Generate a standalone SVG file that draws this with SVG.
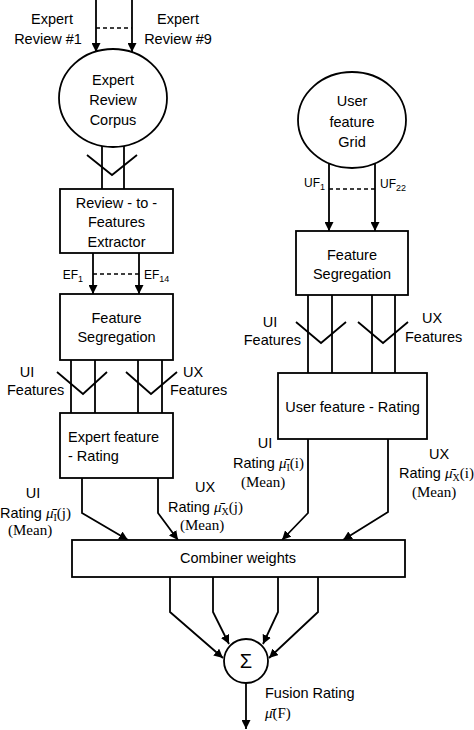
<svg xmlns="http://www.w3.org/2000/svg" width="474" height="730" viewBox="0 0 474 730">
<defs>
<marker id="ah" viewBox="0 0 10 10" refX="10" refY="5" markerWidth="9" markerHeight="9" markerUnits="userSpaceOnUse" orient="auto">
<path d="M0,0 L10,5 L0,10 z" fill="#000"/>
</marker>
</defs>
<style>
.s{fill:#fff;stroke:#000;stroke-width:1.8}
.l{fill:none;stroke:#000;stroke-width:1.8}
.a{fill:none;stroke:#000;stroke-width:1.8;marker-end:url(#ah)}
.d{fill:none;stroke:#000;stroke-width:1.5;stroke-dasharray:4,3}
text{font-family:"Liberation Sans",Arial,sans-serif;font-size:14.5px;fill:#000}
.c{text-anchor:middle}
.e{text-anchor:end}
.sm{font-size:12px}
.sb{font-size:9px}
.sf{font-family:"Liberation Serif","Times New Roman",serif;font-size:15px}
.mu{font-family:"Liberation Serif","Times New Roman",serif;font-style:italic;font-size:15px}
.si{font-family:"Liberation Serif","Times New Roman",serif;font-size:10px}
</style>
<g id="connectors">
<line class="a" x1="96" y1="0" x2="96" y2="52"/>
<line class="a" x1="132" y1="0" x2="132" y2="52"/>
<line class="d" x1="96" y1="28" x2="132" y2="28"/>
<line class="l" x1="102" y1="146" x2="102" y2="189"/>
<line class="l" x1="124" y1="146" x2="124" y2="189"/>
<polyline class="l" points="87,155 112,175 137,155"/>
<line class="a" x1="93" y1="253" x2="93" y2="294"/>
<line class="a" x1="139" y1="253" x2="139" y2="294"/>
<line class="d" x1="93" y1="274" x2="139" y2="274"/>
<line class="l" x1="71" y1="360" x2="71" y2="413"/>
<line class="l" x1="95" y1="360" x2="95" y2="413"/>
<line class="l" x1="138" y1="360" x2="138" y2="413"/>
<line class="l" x1="162" y1="360" x2="162" y2="413"/>
<polyline class="l" points="57,372 83,394 107,372"/>
<polyline class="l" points="126,372 151,394 177,372"/>
<polyline class="a" points="82,478 82,513 128,540"/>
<polyline class="a" points="158,478 158,513 178,540"/>
<line class="a" x1="329" y1="163" x2="329" y2="231"/>
<line class="a" x1="375" y1="163" x2="375" y2="231"/>
<line class="d" x1="329" y1="189" x2="375" y2="189"/>
<line class="l" x1="308" y1="295" x2="308" y2="373"/>
<line class="l" x1="332" y1="295" x2="332" y2="373"/>
<line class="l" x1="372" y1="295" x2="372" y2="373"/>
<line class="l" x1="395" y1="295" x2="395" y2="373"/>
<polyline class="l" points="296,322 321,343 346,322"/>
<polyline class="l" points="358,322 383,343 408,322"/>
<polyline class="a" points="308,439 308,513 282,540"/>
<polyline class="a" points="388,439 388,512 343,540"/>
<polyline class="a" points="170,577 170,612 223,658"/>
<polyline class="a" points="213,577 213,612 229,644"/>
<polyline class="a" points="278,577 278,612 263,644"/>
<polyline class="a" points="318,577 318,612 269,658"/>
<line class="a" x1="246" y1="683" x2="246" y2="729"/>
</g>
<g id="labels">
<text class="c" x="52" y="24">Expert</text>
<text class="c" x="48" y="44">Review #1</text>
<text class="c" x="178" y="24">Expert</text>
<text class="c" x="178" y="44">Review #9</text>
<text class="e sm" x="83" y="279">EF<tspan class="sb" dy="3">1</tspan></text>
<text class="sm" x="144" y="279">EF<tspan class="sb" dy="3">14</tspan></text>
<text class="c" x="27" y="377">UI</text>
<text x="7" y="395">Features</text>
<text class="c" x="193" y="377">UX</text>
<text x="170" y="395">Features</text>
<text class="c" x="33" y="498">UI</text>
<text x="0" y="518">Rating <tspan class="mu">μ̄</tspan><tspan class="si" dy="3">I</tspan><tspan class="sf" dy="-3">(j)</tspan></text>
<text class="sf" x="8" y="535">(Mean)</text>
<text class="c" x="205" y="492">UX</text>
<text x="168" y="512">Rating <tspan class="mu">μ̄</tspan><tspan class="si" dy="3">X</tspan><tspan class="sf" dy="-3">(j)</tspan></text>
<text class="sf" x="180" y="530">(Mean)</text>
<text class="e sm" x="325" y="187">UF<tspan class="sb" dy="3">1</tspan></text>
<text class="sm" x="380" y="188">UF<tspan class="sb" dy="3">22</tspan></text>
<text class="c" x="270" y="327">UI</text>
<text class="e" x="301" y="345">Features</text>
<text class="c" x="432" y="323">UX</text>
<text x="405" y="342">Features</text>
<text class="c" x="265" y="448">UI</text>
<text class="e" x="304" y="468">Rating <tspan class="mu">μ̄</tspan><tspan class="si" dy="3">I</tspan><tspan class="sf" dy="-3">(i)</tspan></text>
<text class="sf" x="241" y="487">(Mean)</text>
<text class="c" x="439" y="459">UX</text>
<text x="399" y="478">Rating <tspan class="mu">μ̄</tspan><tspan class="si" dy="3">X</tspan><tspan class="sf" dy="-3">(i)</tspan></text>
<text class="sf" x="412" y="497">(Mean)</text>
<text x="265" y="698">Fusion Rating</text>
<text x="265" y="718"><tspan class="mu">μ̄</tspan><tspan class="sf">(F)</tspan></text>
</g>
<g id="expert-review-corpus">
<ellipse class="s" cx="113" cy="98" rx="54" ry="49"/>
<text class="c" x="113" y="85">Expert</text>
<text class="c" x="113" y="105">Review</text>
<text class="c" x="113" y="125">Corpus</text>
</g>
<g id="review-to-features-extractor">
<rect class="s" x="60" y="189" width="113" height="64"/>
<text class="c" x="116.5" y="208">Review - to -</text>
<text class="c" x="116.5" y="227">Features</text>
<text class="c" x="116.5" y="247">Extractor</text>
</g>
<g id="feature-segregation-expert">
<rect class="s" x="60" y="294" width="113" height="66"/>
<text class="c" x="116.5" y="323">Feature</text>
<text class="c" x="116.5" y="342">Segregation</text>
</g>
<g id="expert-feature-rating">
<rect class="s" x="60" y="413" width="113" height="65"/>
<text x="68" y="442">Expert feature</text>
<text x="68" y="461">- Rating</text>
</g>
<g id="user-feature-grid">
<ellipse class="s" cx="352" cy="120" rx="54" ry="48"/>
<text class="c" x="352" y="106">User</text>
<text class="c" x="352" y="127">feature</text>
<text class="c" x="352" y="147">Grid</text>
</g>
<g id="feature-segregation-user">
<rect class="s" x="296" y="231" width="112" height="64"/>
<text class="c" x="352" y="260">Feature</text>
<text class="c" x="352" y="279">Segregation</text>
</g>
<g id="user-feature-rating">
<rect class="s" x="278" y="373" width="149" height="66"/>
<text class="c" x="352.5" y="412">User feature - Rating</text>
</g>
<g id="combiner-weights">
<rect class="s" x="72" y="540" width="333" height="37"/>
<text class="c" x="238" y="563">Combiner weights</text>
</g>
<g id="sum">
<circle class="s" cx="246" cy="661" r="22"/>
<text class="c" x="246" y="668" style="font-size:20px">Σ</text>
</g>
</svg>
